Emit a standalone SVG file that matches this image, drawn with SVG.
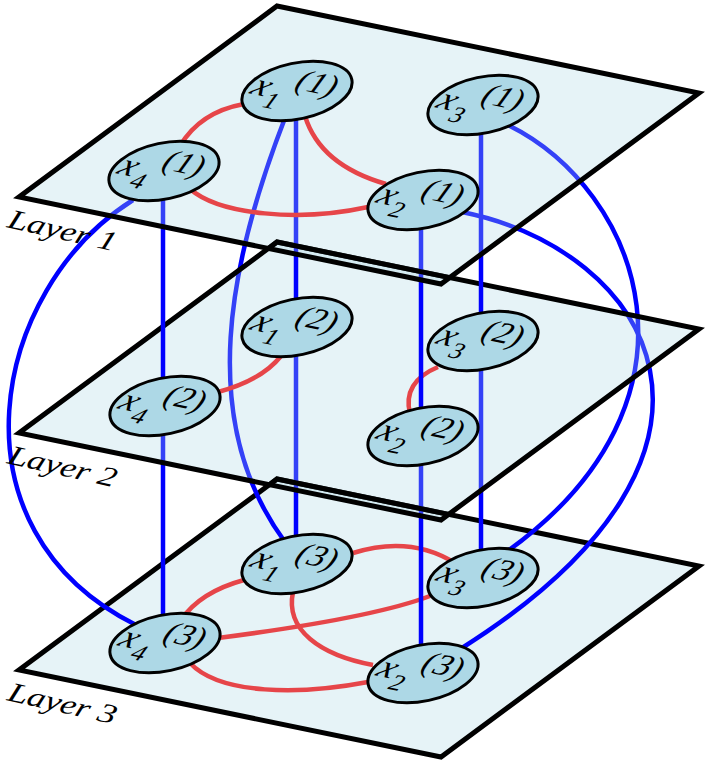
<svg xmlns="http://www.w3.org/2000/svg" width="709" height="767" viewBox="0 0 709 767">
<style>
.plane{fill:#add8e6;fill-opacity:0.3;stroke:#000;stroke-width:5;stroke-linejoin:miter;stroke-miterlimit:10}
.edge{fill:none;stroke:#000;stroke-width:5;stroke-linejoin:miter;stroke-miterlimit:10}
.b{fill:none;stroke:#0000ff;stroke-width:4.5}
.r{fill:none;stroke:#e64549;stroke-width:4.5}
.nd{fill:#add8e6;stroke:#000;stroke-width:3}
.lx{font-family:"Liberation Serif","DejaVu Serif",serif;font-style:italic;font-size:36px;fill:#000}
.ls{font-family:"Liberation Serif","DejaVu Serif",serif;font-size:26px;fill:#000}
.lp{font-family:"Liberation Serif","DejaVu Serif",serif;font-size:34px;fill:#000}
.ll{font-family:"Liberation Serif","DejaVu Serif",serif;font-style:italic;font-size:28px;fill:#000}
</style>

<!-- Layer 3 plane -->
<g id="layer3">
<polygon class="plane" points="277,479 699,566 441,757 19,670"/>
<text class="ll" transform="matrix(1.24,0.28,-0.34,0.94,6,700)">Layer 3</text>
</g>

<!-- connectors on layer 3 and between layers 2-3 -->
<g id="connectors-3">
<path class="r" d="M353,553 Q410,535 455,563"/>
<path class="r" d="M244,580 Q200,592 181,620"/>
<path class="r" d="M293,592 C285,630 320,655 373,665"/>
<path class="r" d="M218,638 C280,630 380,615 430,596"/>
<path class="r" d="M190,663 C220,695 300,695 368,682"/>
<line class="b" x1="163" y1="405" x2="163" y2="643"/>
<line class="b" x1="296" y1="327" x2="296" y2="564"/>
<line class="b" x1="421" y1="436" x2="421" y2="673"/>
<line class="b" x1="481" y1="340" x2="481" y2="578"/>
<path class="b" d="M285,118 C230,260 195,420 285,542"/>
<path class="b" d="M133,200 C-10,290 -55,530 136,625"/>
<path class="b" d="M508,125 C640,190 720,400 505,553"/>
<path class="b" d="M462,212 C650,250 775,450 462,648"/>
</g>

<g id="n1_3"><ellipse class="nd" cx="297" cy="564" rx="56" ry="28" transform="rotate(-12 297 564)"/>
<g transform="matrix(0.97,0.2,-0.588,0.809,297,564)"><text class="lx" x="-42" y="13">x</text><text class="ls" x="-23" y="25">1</text><text class="lp" x="-6" y="-2">(3)</text></g></g>
<g id="n3_3"><ellipse class="nd" cx="483" cy="578" rx="56" ry="28" transform="rotate(-12 483 578)"/>
<g transform="matrix(0.97,0.2,-0.588,0.809,483,578)"><text class="lx" x="-42" y="13">x</text><text class="ls" x="-23" y="25">3</text><text class="lp" x="-6" y="-2">(3)</text></g></g>
<g id="n4_3"><ellipse class="nd" cx="165" cy="643" rx="56" ry="28" transform="rotate(-12 165 643)"/>
<g transform="matrix(0.97,0.2,-0.588,0.809,165,643)"><text class="lx" x="-42" y="13">x</text><text class="ls" x="-23" y="25">4</text><text class="lp" x="-6" y="-2">(3)</text></g></g>
<g id="n2_3"><ellipse class="nd" cx="423" cy="673" rx="56" ry="28" transform="rotate(-12 423 673)"/>
<g transform="matrix(0.97,0.2,-0.588,0.809,423,673)"><text class="lx" x="-42" y="13">x</text><text class="ls" x="-23" y="25">2</text><text class="lp" x="-6" y="-2">(3)</text></g></g>

<!-- Layer 2 plane -->
<g id="layer2">
<polygon class="plane" points="277,242 699,329 441,520 19,433"/>
<path class="edge" d="M268.4,485.4 L277,479 L449.7,514.6"/>
<text class="ll" transform="matrix(1.24,0.28,-0.34,0.94,6,463)">Layer 2</text>
</g>

<g id="connectors-2">
<path class="r" d="M281,356 Q262,380 218,392"/>
<path class="r" d="M438,367 Q402,382 410,414"/>
<line class="b" x1="163" y1="170" x2="163" y2="405"/>
<line class="b" x1="296" y1="90" x2="296" y2="327"/>
<line class="b" x1="421" y1="200" x2="421" y2="436"/>
<line class="b" x1="481" y1="105" x2="481" y2="340"/>
</g>

<g id="n1_2"><ellipse class="nd" cx="297" cy="327" rx="56" ry="28" transform="rotate(-12 297 327)"/>
<g transform="matrix(0.97,0.2,-0.588,0.809,297,327)"><text class="lx" x="-42" y="13">x</text><text class="ls" x="-23" y="25">1</text><text class="lp" x="-6" y="-2">(2)</text></g></g>
<g id="n3_2"><ellipse class="nd" cx="483" cy="341" rx="56" ry="28" transform="rotate(-12 483 341)"/>
<g transform="matrix(0.97,0.2,-0.588,0.809,483,341)"><text class="lx" x="-42" y="13">x</text><text class="ls" x="-23" y="25">3</text><text class="lp" x="-6" y="-2">(2)</text></g></g>
<g id="n4_2"><ellipse class="nd" cx="165" cy="406" rx="56" ry="28" transform="rotate(-12 165 406)"/>
<g transform="matrix(0.97,0.2,-0.588,0.809,165,406)"><text class="lx" x="-42" y="13">x</text><text class="ls" x="-23" y="25">4</text><text class="lp" x="-6" y="-2">(2)</text></g></g>
<g id="n2_2"><ellipse class="nd" cx="423" cy="436" rx="56" ry="28" transform="rotate(-12 423 436)"/>
<g transform="matrix(0.97,0.2,-0.588,0.809,423,436)"><text class="lx" x="-42" y="13">x</text><text class="ls" x="-23" y="25">2</text><text class="lp" x="-6" y="-2">(2)</text></g></g>

<!-- Layer 1 plane -->
<g id="layer1">
<polygon class="plane" points="277,6 699,93 441,284 19,197"/>
<path class="edge" d="M268.4,248.4 L277,242 L449.7,277.6"/>
<text class="ll" transform="matrix(1.24,0.28,-0.34,0.94,6,227)">Layer 1</text>
</g>

<g id="connectors-1">
<path class="r" d="M244,104 Q200,112 180,146"/>
<path class="r" d="M305,116 Q320,165 386,184"/>
<path class="r" d="M190,189 C220,215 300,222 368,207"/>
</g>

<g id="n1_1"><ellipse class="nd" cx="297" cy="91" rx="56" ry="28" transform="rotate(-12 297 91)"/>
<g transform="matrix(0.97,0.2,-0.588,0.809,297,91)"><text class="lx" x="-42" y="13">x</text><text class="ls" x="-23" y="25">1</text><text class="lp" x="-6" y="-2">(1)</text></g></g>
<g id="n3_1"><ellipse class="nd" cx="483" cy="105" rx="56" ry="28" transform="rotate(-12 483 105)"/>
<g transform="matrix(0.97,0.2,-0.588,0.809,483,105)"><text class="lx" x="-42" y="13">x</text><text class="ls" x="-23" y="25">3</text><text class="lp" x="-6" y="-2">(1)</text></g></g>
<g id="n4_1"><ellipse class="nd" cx="164" cy="171" rx="56" ry="28" transform="rotate(-12 164 171)"/>
<g transform="matrix(0.97,0.2,-0.588,0.809,164,171)"><text class="lx" x="-42" y="13">x</text><text class="ls" x="-23" y="25">4</text><text class="lp" x="-6" y="-2">(1)</text></g></g>
<g id="n2_1"><ellipse class="nd" cx="423" cy="200" rx="56" ry="28" transform="rotate(-12 423 200)"/>
<g transform="matrix(0.97,0.2,-0.588,0.809,423,200)"><text class="lx" x="-42" y="13">x</text><text class="ls" x="-23" y="25">2</text><text class="lp" x="-6" y="-2">(1)</text></g></g>
</svg>
